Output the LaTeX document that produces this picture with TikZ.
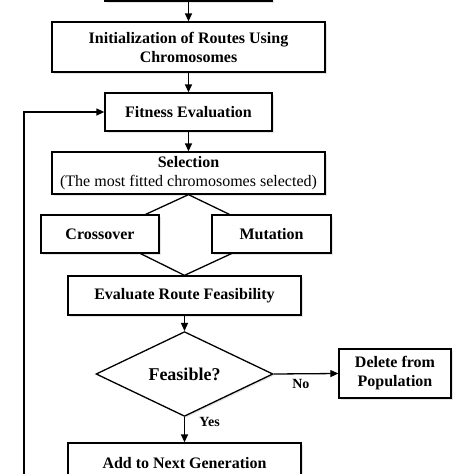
\documentclass[tikz,border=0pt]{standalone}
\usepackage{fontspec}
\setmainfont{Liberation Serif}
\usetikzlibrary{arrows.meta,shapes.geometric,shadows,calc}
\tikzset{
  box/.style={draw, line width=1.3pt, fill=white, align=center, inner sep=2pt,
    font=\fontsize{16}{19}\selectfont\bfseries,
    drop shadow={opacity=0.2, shadow xshift=1.5pt, shadow yshift=-1.5pt}},
  dec/.style={draw, diamond, line width=1.3pt, fill=white, inner sep=0pt,
    font=\fontsize{18}{19}\selectfont\bfseries,
    drop shadow={opacity=0.2, shadow xshift=1.5pt, shadow yshift=-1.5pt}},
  conn/.style={line width=1.3pt},
  arr/.style={line width=1.3pt, -{Triangle[length=8pt,width=7pt]}},
  lab/.style={font=\fontsize{14}{16}\selectfont\bfseries}
}
\begin{document}
\begin{tikzpicture}[x=1pt,y=-1pt]
\clip (0,0) rectangle (474,474);
\useasboundingbox (0,0) rectangle (474,474);
\fill[white] (0,0) rectangle (474,474);
% nodes
\node[box, minimum width=167pt, minimum height=42pt] (top) at (188.5,-20) {};
\node[box, minimum width=273pt, minimum height=50pt] (init) at (188.5,47) {Initialization of Routes Using\\Chromosomes};
\node[box, minimum width=167pt, minimum height=38pt] (fit) at (188.5,112) {Fitness Evaluation};
\node[box, minimum width=273pt, minimum height=42pt] (sel) at (188.5,173) {Selection\\{\mdseries (The most fitted chromosomes selected)}};
\node[box, minimum width=118pt, minimum height=38pt] (cross) at (100,234) {Crossover};
\node[box, minimum width=119pt, minimum height=38pt] (mut) at (271.5,234) {Mutation};
\node[box, minimum width=233pt, minimum height=39pt] (eval) at (184.5,295.5) {Evaluate Route Feasibility};
\node[dec, minimum width=177pt, minimum height=76pt] (feas) at (184.5,374) {Feasible?};
\node[box, minimum width=112pt, minimum height=49pt] (del) at (395,373.5) {Delete from\\Population};
\node[box, minimum width=233pt, minimum height=40pt] (add) at (184.5,463) {Add to Next Generation};
% connector points
\coordinate (crossin) at ($(cross.north east)+(-14,0)$);
\coordinate (mutin) at ($(mut.north west)+(18,0)$);
\coordinate (crossout) at ($(cross.south east)+(-19,0)$);
\coordinate (mutout) at ($(mut.south west)+(20,0)$);
\coordinate (loopbot) at (24,520);
% connectors
\draw[arr] (top.south) -- (init.north);
\draw[arr] (init.south) -- (fit.north);
\draw[arr] (fit.south) -- (sel.north);
\draw[conn] (crossin) -- (sel.south) -- (mutin);
\draw[conn] (crossout) -- (eval.north) -- (mutout);
\draw[arr] (eval.south) -- (feas.north);
\draw[arr] (feas.east) -- node[lab, below, pos=0.42, yshift=-2pt] {No} (del.west);
\draw[arr] (feas.south) -- node[lab, right, pos=0.2, xshift=11pt] {Yes} (add.north);
\draw[arr] (add.south) -- ++(0,25) -| (loopbot) |- (fit.west);
\end{tikzpicture}
\end{document}
